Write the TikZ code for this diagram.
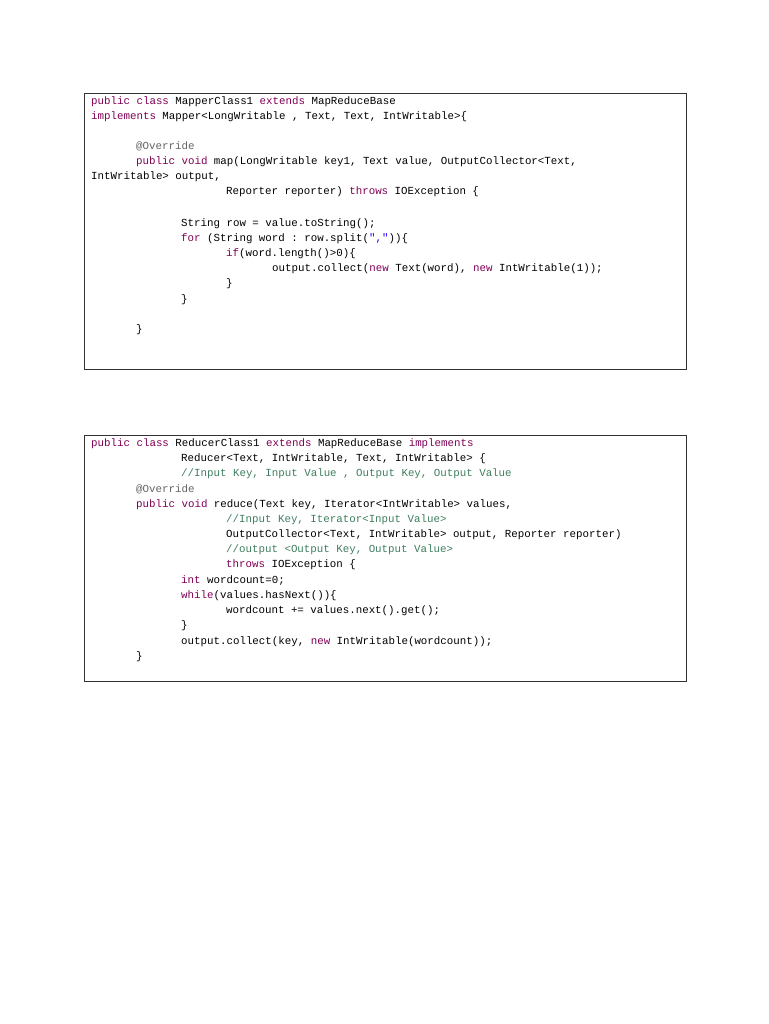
\documentclass[tikz,border=0pt]{standalone}
\usepackage{fontspec}
\setmonofont{Liberation Mono}
\definecolor{kw}{HTML}{7F0055}
\definecolor{cm}{HTML}{3F7F5F}
\definecolor{st}{HTML}{2A00FF}
\definecolor{an}{HTML}{646464}
\newcommand\K[1]{\textcolor{kw}{#1}}
\newcommand\C[1]{\textcolor{cm}{#1}}
\newcommand\Sx[1]{\textcolor{st}{#1}}
\newcommand\A[1]{\textcolor{an}{#1}}
\tikzset{ln/.style={anchor=base west,inner sep=0pt,font=\ttfamily\fontsize{10.8}{12}\selectfont},
box/.style={draw=black!80,line width=0.8pt}}
\begin{document}
\begin{tikzpicture}[x=1pt,y=-1pt]
\useasboundingbox (0,0) rectangle (768,1024);
\fill[white] (0,0) rectangle (768,1024);
\draw[box] (84,93) rectangle (686,369);
\draw[box] (84,435) rectangle (686,681);
\node[ln] (a1) at (91,105) {\K{public class} MapperClass1 \K{extends} MapReduceBase};
\node[ln] (a2) at (91,120) {\K{implements} Mapper<LongWritable , Text, Text, IntWritable>\{};
\node[ln] (a3) at (136,150) {\A{@Override}};
\node[ln] (a4) at (136,165) {\K{public void} map(LongWritable key1, Text value, OutputCollector<Text,};
\node[ln] (a5) at (91,180) {IntWritable> output,};
\node[ln] (a6) at (226,195) {Reporter reporter) \K{throws} IOException \{};
\node[ln] (a7) at (181,226) {String row = value.toString();};
\node[ln] (a8) at (181,241) {\K{for} (String word : row.split(\Sx{","}))\{};
\node[ln] (a9) at (226,256) {\K{if}(word.length()>0)\{};
\node[ln] (a10) at (272,271) {output.collect(\K{new} Text(word), \K{new} IntWritable(1));};
\node[ln] (a11) at (226,286) {\}};
\node[ln] (a12) at (181,302) {\}};
\node[ln] (a13) at (136,332) {\}};
\node[ln] (b1) at (91,446) {\K{public class} ReducerClass1 \K{extends} MapReduceBase \K{implements}};
\node[ln] (b2) at (181,461) {Reducer<Text, IntWritable, Text, IntWritable> \{};
\node[ln] (b3) at (181,476) {\C{//Input Key, Input Value , Output Key, Output Value}};
\node[ln] (b4) at (136,492) {\A{@Override}};
\node[ln] (b5) at (136,507) {\K{public void} reduce(Text key, Iterator<IntWritable> values,};
\node[ln] (b6) at (226,522) {\C{//Input Key, Iterator<Input Value>}};
\node[ln] (b7) at (226,537) {OutputCollector<Text, IntWritable> output, Reporter reporter)};
\node[ln] (b8) at (226,552) {\C{//output <Output Key, Output Value>}};
\node[ln] (b9) at (226,567) {\K{throws} IOException \{};
\node[ln] (b10) at (181,583) {\K{int} wordcount=0;};
\node[ln] (b11) at (181,598) {\K{while}(values.hasNext())\{};
\node[ln] (b12) at (226,613) {wordcount += values.next().get();};
\node[ln] (b13) at (181,628) {\}};
\node[ln] (b14) at (181,644) {output.collect(key, \K{new} IntWritable(wordcount));};
\node[ln] (b15) at (136,659) {\}};
\end{tikzpicture}
\end{document}
